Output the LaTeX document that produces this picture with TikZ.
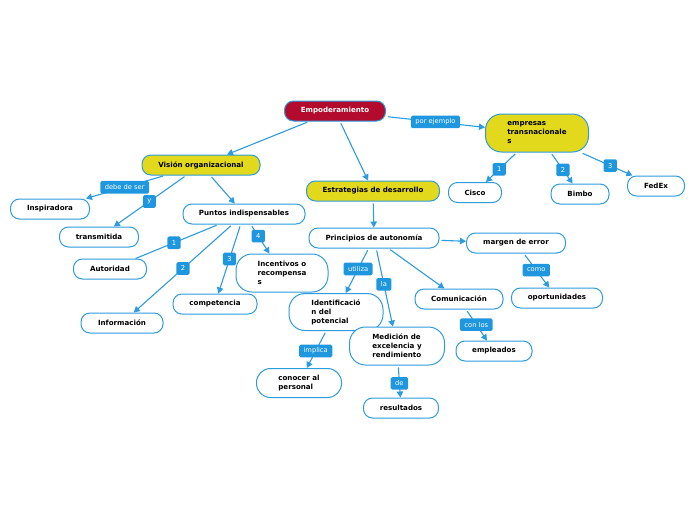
\documentclass[tikz,border=0pt]{standalone}
\usepackage{fontspec}
\setmainfont{DejaVu Sans}
\usetikzlibrary{arrows.meta}
\definecolor{edgec}{HTML}{2D9BE0}
\definecolor{bordc}{HTML}{2E9BDB}
\definecolor{lblc}{HTML}{1F97DE}
\definecolor{yel}{HTML}{E3D91C}
\definecolor{redc}{HTML}{B30B2D}
\tikzset{
 nbox/.style={draw=bordc, line width=1pt, rounded corners=9pt, fill=white, minimum height=20pt, inner sep=2pt, font=\fontsize{7.1}{9}\selectfont\bfseries, text=black, align=left},
 bigbox/.style={nbox, rounded corners=16pt},
 ybox/.style={nbox, fill=yel},
 rbox/.style={nbox, fill=redc, text=white},
 conn/.style={draw=edgec, line width=1.1pt, -{Triangle[length=6pt,width=6.5pt]}, shorten <=2pt},
 lineonly/.style={draw=edgec, line width=1.1pt, shorten <=2pt},
 lbl/.style={fill=lblc, text=white, rounded corners=1.5pt, inner xsep=4.5pt, inner ysep=2pt, minimum height=12.6pt, minimum width=12pt, font=\fontsize{6.7}{8}\selectfont},
}
\begin{document}
\begin{tikzpicture}[x=1pt,y=-1pt]
\useasboundingbox (0,0) rectangle (696,520);
% nodes
\node[rbox, minimum width=101pt] (emp) at (335,111) {Empoderamiento};
\node[ybox, bigbox, fill=yel, minimum width=103pt, minimum height=38pt] (empr) at (537,133) {empresas\\transnacionale\\s};
\node[ybox, minimum width=118pt] (vis) at (201,165) {Visión organizacional};
\node[ybox, minimum width=133pt] (est) at (373,191) {Estrategias de desarrollo};
\node[nbox, minimum width=53pt] (cis) at (475,192.5) {Cisco};
\node[nbox, minimum width=58pt] (bim) at (580,194) {Bimbo};
\node[nbox, minimum width=57pt] (fed) at (656,186) {FedEx};
\node[nbox, minimum width=79pt] (ins) at (50,209) {Inspiradora};
\node[nbox, minimum width=122pt] (pun) at (244,214) {Puntos indispensables};
\node[nbox, minimum width=79pt] (tra) at (99,237) {transmitida};
\node[nbox, minimum width=130pt] (pri) at (374,238) {Principios de autonomía};
\node[nbox, minimum width=99pt] (mar) at (516,243) {margen de error};
\node[nbox, minimum width=73pt] (aut) at (110,269) {Autoridad};
\node[bigbox, minimum width=92pt, minimum height=38pt] (inc) at (282,273) {Incentivos o\\recompensa\\s};
\node[nbox, minimum width=84pt] (com) at (215,304) {competencia};
\node[bigbox, minimum width=94pt, minimum height=37pt] (ide) at (336,312) {Identificació\\n del\\potencial};
\node[nbox, minimum width=91pt] (opo) at (557,298) {oportunidades};
\node[nbox, minimum width=88pt] (cmu) at (459,299) {Comunicación};
\node[nbox, minimum width=82pt] (inf) at (122,323) {Información};
\node[bigbox, minimum width=95pt, minimum height=38pt] (med) at (397,346) {Medición de\\excelencia y\\rendimiento};
\node[nbox, minimum width=76pt] (emq) at (494,351) {empleados};
\node[bigbox, minimum width=85pt, minimum height=29pt, rounded corners=14pt] (con) at (299,383) {conocer al\\personal};
\node[nbox, minimum width=75pt] (res) at (401,408) {resultados};
% connectors
\draw[conn] (emp) -- (vis);
\draw[conn] (emp) -- (est);
\draw[conn] (emp) -- node[lbl, pos=0.5] {por ejemplo} (empr);
\draw[conn] (vis) -- node[lbl, pos=0.51] {debe de ser} (ins);
\draw[conn] (vis) -- node[lbl, pos=0.51] {y} (tra);
\draw[conn] (vis) -- (pun);
\draw[lineonly] (pun) -- node[lbl, pos=0.537] {1} (aut);
\draw[conn] (pun) -- node[lbl, pos=0.5] {2} (inf);
\draw[conn] (pun) -- node[lbl, pos=0.5] {3} (com);
\draw[conn] (pun) -- node[lbl, pos=0.4] {4} (inc);
\draw[conn] (est) -- (pri);
\draw[conn] (empr) -- node[lbl, pos=0.57] {1} (cis);
\draw[conn] (empr) -- node[lbl, pos=0.56] {2} (bim);
\draw[conn] (empr) -- node[lbl, pos=0.57] {3} (fed);
\draw[conn] (pri) -- (mar);
\draw[conn] (pri) -- node[lbl, pos=0.46] {utiliza} (ide);
\draw[conn] (pri) -- node[lbl, pos=0.46] {la} (med);
\draw[conn] (pri) -- (cmu);
\draw[conn] (mar) -- node[lbl, pos=0.49] {como} (opo);
\draw[conn] (ide) -- node[lbl, pos=0.54] {implica} (con);
\draw[conn] (cmu) -- node[lbl, pos=0.49] {con los} (emq);
\draw[conn] (med) -- node[lbl, pos=0.56] {de} (res);
\end{tikzpicture}
\end{document}
